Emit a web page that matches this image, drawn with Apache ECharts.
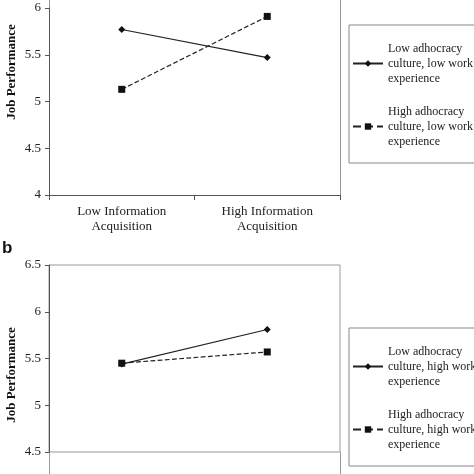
<!DOCTYPE html>
<html>
<head>
<meta charset="UTF-8">
<script src="https://cdn.jsdelivr.net/npm/echarts@6/dist/echarts.min.js"></script>
<style>
  html, body { margin: 0; padding: 0; background: #fff; }
  #chart { width: 474px; height: 474px; }
</style>
</head>
<body>
<div id="chart"></div>
<script>
// data
var categories = ['Low Information\nAcquisition', 'High Information\nAcquisition'];
var namesA = ['Low adhocracy\nculture, low work\nexperience', 'High adhocracy\nculture, low work\nexperience'];
var namesB = ['Low adhocracy\nculture, high work\nexperience', 'High adhocracy\nculture, high work\nexperience'];
var lowA = [5.77, 5.47];
var highA = [5.13, 5.91];
var lowB = [5.44, 5.81];
var highB = [5.45, 5.57];

var font = 'Liberation Serif';
var chart = echarts.init(document.getElementById('chart'));

function yAxis(idx, min, max) {
    return {
        gridIndex: idx, type: 'value', min: min, max: max, interval: 0.5,
        axisLine: { show: true, lineStyle: { color: '#555' } },
        axisTick: { show: true, length: 4, lineStyle: { color: '#555' } },
        splitLine: { show: false },
        axisLabel: { color: '#222', fontFamily: font, fontSize: 13, margin: 8 }
    };
}
function xAxis(idx, show) {
    return {
        gridIndex: idx, type: 'category', data: categories, boundaryGap: true, show: show,
        axisLine: { lineStyle: { color: '#555' } },
        axisTick: { show: true, length: 5, lineStyle: { color: '#555' } },
        axisLabel: { color: '#222', fontFamily: font, fontSize: 13, lineHeight: 15, margin: 9 }
    };
}
function line(name, data, idx, dashed, symbol, size) {
    return {
        name: name, type: 'line', xAxisIndex: idx, yAxisIndex: idx, data: data,
        symbol: symbol, symbolSize: size,
        itemStyle: { color: '#111' },
        lineStyle: { color: '#222', width: 1.2, type: dashed ? 'dashed' : 'solid' }
    };
}
function legend(names, top) {
    return {
        data: names, orient: 'vertical', left: 349, top: top, width: 124, height: 138,
        borderColor: '#888', borderWidth: 1, padding: [16, 2, 14, 3], itemGap: 18,
        itemWidth: 30, itemHeight: 8,
        textStyle: { fontFamily: font, fontSize: 12, color: '#222', lineHeight: 15 }
    };
}
function vline(x, y1, y2) {
    return { type: 'line', shape: { x1: x, y1: y1, x2: x, y2: y2 }, style: { stroke: '#999', lineWidth: 1 } };
}

chart.setOption({
    animation: false,
    grid: [
        { left: 49, top: 8, width: 291, height: 187, show: false },
        { left: 49, top: 265, width: 291, height: 187, show: true, borderColor: '#999', borderWidth: 1 }
    ],
    xAxis: [xAxis(0, true), xAxis(1, false)],
    yAxis: [yAxis(0, 4, 6), yAxis(1, 4.5, 6.5)],
    legend: [legend(namesA, 25), legend(namesB, 328)],
    series: [
        line(namesA[0], lowA, 0, false, 'diamond', 7),
        line(namesA[1], highA, 0, true, 'rect', 7),
        line(namesB[0], lowB, 1, false, 'diamond', 7),
        line(namesB[1], highB, 1, true, 'rect', 7)
    ],
    graphic: [
        vline(49.5, 0, 8), vline(340.5, 0, 195),
        vline(49.5, 452, 474), vline(340.5, 452, 474),
        { type: 'text', x: 12, y: 72, rotation: Math.PI / 2,
          style: { text: 'Job Performance', fontFamily: font, fontWeight: 'bold', fontSize: 13, fill: '#111', align: 'center', verticalAlign: 'middle' } },
        { type: 'text', x: 12, y: 375, rotation: Math.PI / 2,
          style: { text: 'Job Performance', fontFamily: font, fontWeight: 'bold', fontSize: 13, fill: '#111', align: 'center', verticalAlign: 'middle' } },
        { type: 'text', left: 2, top: 240,
          style: { text: 'b', fontFamily: 'Liberation Sans', fontWeight: 'bold', fontSize: 17, fill: '#111' } }
    ]
});
</script>
</body>
</html>
